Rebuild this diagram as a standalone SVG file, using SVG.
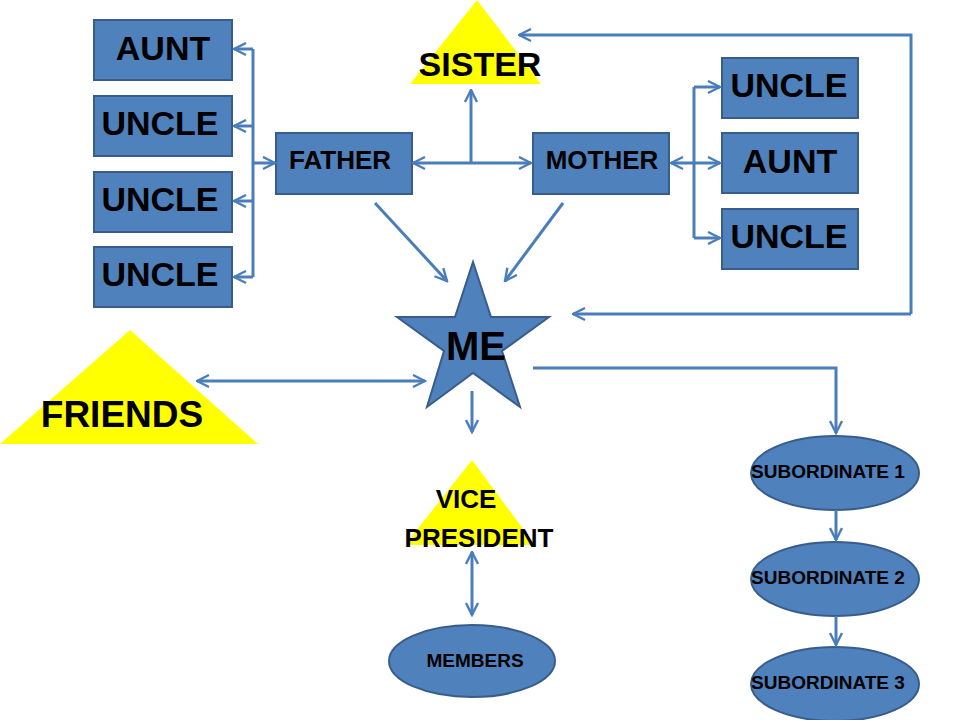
<svg xmlns="http://www.w3.org/2000/svg" width="960" height="720" viewBox="0 0 960 720">
<defs>
<marker id="a" viewBox="0 0 10 10" refX="9" refY="5" markerWidth="5" markerHeight="5" orient="auto-start-reverse" markerUnits="strokeWidth"><path d="M1,1 L9,5 L1,9" fill="none" stroke="#4A7EBB" stroke-width="1.6"/></marker>
</defs>
<style>
.b{fill:#4F81BD;stroke:#385D8A;stroke-width:2}
.y{fill:#FFFF00}
text{font-family:"Liberation Sans",Arial,sans-serif;font-weight:bold;fill:#000}
.c{fill:none;stroke:#4A7EBB;stroke-width:3}
</style>
<rect width="960" height="720" fill="#fff"/>
<g id="aunt1"><rect class="b" x="94" y="20" width="138" height="60"/><text x="163" y="60" font-size="34" text-anchor="middle">AUNT</text></g>
<g id="uncle1"><rect class="b" x="94" y="96" width="138" height="60"/><text x="160" y="135" font-size="34" text-anchor="middle">UNCLE</text></g>
<g id="uncle2"><rect class="b" x="94" y="172" width="138" height="60"/><text x="160" y="211" font-size="34" text-anchor="middle">UNCLE</text></g>
<g id="uncle3"><rect class="b" x="94" y="247" width="138" height="60"/><text x="160" y="286" font-size="34" text-anchor="middle">UNCLE</text></g>
<g id="father"><rect class="b" x="276" y="133" width="136" height="61"/><text x="340" y="169" font-size="26" text-anchor="middle">FATHER</text></g>
<g id="mother"><rect class="b" x="533" y="133" width="136" height="61"/><text x="602" y="169" font-size="26" text-anchor="middle">MOTHER</text></g>
<g id="uncle4"><rect class="b" x="722" y="58" width="136" height="60"/><text x="789" y="97" font-size="34" text-anchor="middle">UNCLE</text></g>
<g id="aunt2"><rect class="b" x="722" y="133" width="136" height="60"/><text x="790" y="173" font-size="34" text-anchor="middle">AUNT</text></g>
<g id="uncle5"><rect class="b" x="722" y="209" width="136" height="60"/><text x="789" y="248" font-size="34" text-anchor="middle">UNCLE</text></g>
<g id="sister"><polygon class="y" points="477,0 541,84 410,84"/><text x="480" y="76" font-size="34" text-anchor="middle">SISTER</text></g>
<g id="me"><polygon class="b" points="473,262 491,317 549,317 502,351 520,407 473,373 427,407 444,351 397,317 455,317"/><text x="476" y="360" font-size="40" text-anchor="middle">ME</text></g>
<g id="friends"><polygon class="y" points="130,330 258,444 0,444"/><text x="122" y="427" font-size="37" text-anchor="middle">FRIENDS</text></g>
<g id="vp"><polygon class="y" points="472,460 535,545 405,545"/><text x="466" y="508" font-size="26" text-anchor="middle">VICE</text><text x="479" y="547" font-size="26" text-anchor="middle">PRESIDENT</text></g>
<g id="members"><ellipse class="b" cx="472" cy="661" rx="83" ry="36"/><text x="475" y="667" font-size="19" text-anchor="middle">MEMBERS</text></g>
<g id="sub1"><ellipse class="b" cx="835" cy="473" rx="84" ry="37"/><text x="828" y="478" font-size="19" text-anchor="middle">SUBORDINATE 1</text></g>
<g id="sub2"><ellipse class="b" cx="835" cy="579" rx="84" ry="37"/><text x="828" y="584" font-size="19" text-anchor="middle">SUBORDINATE 2</text></g>
<g id="sub3"><ellipse class="b" cx="835" cy="684" rx="84" ry="37"/><text x="828" y="689" font-size="19" text-anchor="middle">SUBORDINATE 3</text></g>
<g id="connectors">
<path class="c" d="M253,49 V277"/>
<path class="c" marker-end="url(#a)" d="M253,49 H234"/>
<path class="c" marker-end="url(#a)" d="M253,126 H234"/>
<path class="c" marker-end="url(#a)" d="M253,201 H234"/>
<path class="c" marker-end="url(#a)" d="M253,277 H234"/>
<path class="c" marker-end="url(#a)" d="M253,163 H275"/>
<path class="c" marker-start="url(#a)" marker-end="url(#a)" d="M413,163 H531"/>
<path class="c" marker-end="url(#a)" d="M471,163 V90"/>
<path class="c" d="M694,87 V238"/>
<path class="c" marker-end="url(#a)" d="M694,87 H720"/>
<path class="c" marker-end="url(#a)" d="M694,238 H720"/>
<path class="c" marker-start="url(#a)" marker-end="url(#a)" d="M671,163 H720"/>
<path class="c" marker-end="url(#a)" d="M911,314 V35 H519"/>
<path class="c" marker-end="url(#a)" d="M911,314 H573"/>
<path class="c" marker-end="url(#a)" d="M375,203 L447,281"/>
<path class="c" marker-end="url(#a)" d="M563,203 L505,281"/>
<path class="c" marker-start="url(#a)" marker-end="url(#a)" d="M197,381 H425"/>
<path class="c" marker-end="url(#a)" d="M472,391 V432"/>
<path class="c" marker-start="url(#a)" marker-end="url(#a)" d="M472,552 V615"/>
<path class="c" marker-end="url(#a)" d="M533,368 H836 V433"/>
<path class="c" marker-end="url(#a)" d="M836,510 V540"/>
<path class="c" marker-end="url(#a)" d="M836,616 V645"/>
</g>
</svg>
